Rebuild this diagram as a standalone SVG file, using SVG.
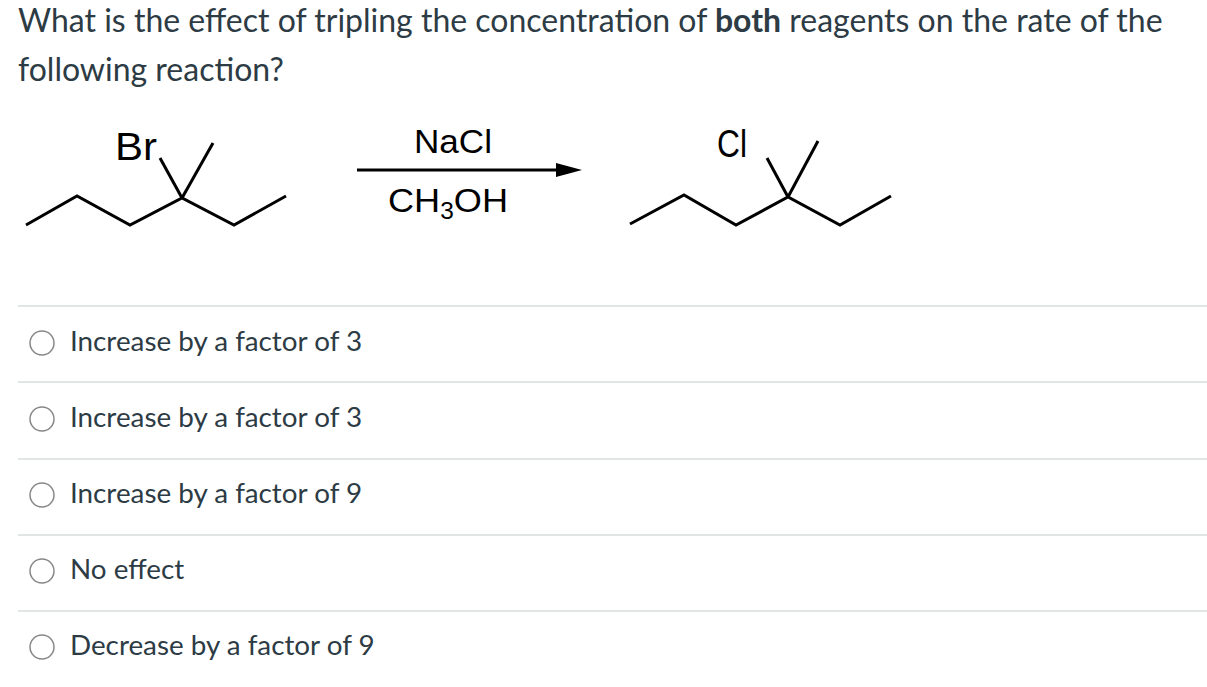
<svg xmlns="http://www.w3.org/2000/svg" width="1207" height="687" viewBox="0 0 1207 687">
<style>
.t{font-family:Lato,"Liberation Sans",sans-serif;font-size:32px;fill:#2d3b45}
.o{font-family:Lato,"Liberation Sans",sans-serif;font-size:27.8px;fill:#2d3b45}
.c{font-family:"Liberation Sans",Arial,sans-serif;font-size:34px;fill:#000}
.a{font-family:"Liberation Sans",Arial,sans-serif;font-size:38px;fill:#000}
.b{fill:none;stroke:#000;stroke-width:3;stroke-linejoin:miter}
.sep{stroke:#d9dcde;stroke-width:1.5}
.r{fill:#fff;stroke:#888;stroke-width:1.5}
</style>
<rect width="1207" height="687" fill="#fff"/>
<g id="question">
<text class="t" x="18" y="32">What is the effect of tripling the concentration of <tspan font-weight="bold">both</tspan> reagents on the rate of the</text>
<text class="t" x="18" y="81">following reaction?</text>
</g>
<g id="reactant">
<polyline class="b" points="26,225 77,196 130,225 182,198 234,225 286,196"/>
<line class="b" x1="182" y1="198" x2="160" y2="158"/>
<line class="b" x1="182" y1="198" x2="213" y2="143"/>
<text class="a" x="115" y="160" textLength="42" lengthAdjust="spacingAndGlyphs">Br</text>
</g>
<g id="connectors">
<line class="b" x1="357" y1="170" x2="560" y2="170"/>
<polygon points="582,170 556,163 556,177" fill="#000"/>
</g>
<g id="conditions">
<text class="c" x="414" y="153" textLength="78" lengthAdjust="spacingAndGlyphs">NaCl</text>
<text class="c" x="388" y="212" textLength="120" lengthAdjust="spacingAndGlyphs">CH<tspan font-size="23" dy="7">3</tspan><tspan dy="-7">OH</tspan></text>
</g>
<g id="product">
<polyline class="b" points="630,224 684,195 736,225 788,197 840,225 891,196"/>
<line class="b" x1="788" y1="197" x2="767" y2="158"/>
<line class="b" x1="788" y1="197" x2="818" y2="141"/>
<text class="a" x="717" y="157" textLength="30" lengthAdjust="spacingAndGlyphs">Cl</text>
</g>
<g id="options">
<line class="sep" x1="18" y1="306" x2="1207" y2="306"/>
<line class="sep" x1="18" y1="382" x2="1207" y2="382"/>
<line class="sep" x1="18" y1="459" x2="1207" y2="459"/>
<line class="sep" x1="18" y1="535" x2="1207" y2="535"/>
<line class="sep" x1="18" y1="611" x2="1207" y2="611"/>
<circle class="r" cx="42" cy="343" r="12"/>
<circle class="r" cx="42" cy="419" r="12"/>
<circle class="r" cx="42" cy="495" r="12"/>
<circle class="r" cx="42" cy="571" r="12"/>
<circle class="r" cx="42" cy="647" r="12"/>
<text class="o" x="70" y="351">Increase by a factor of 3</text>
<text class="o" x="70" y="427">Increase by a factor of 3</text>
<text class="o" x="70" y="503">Increase by a factor of 9</text>
<text class="o" x="70" y="579">No effect</text>
<text class="o" x="70" y="655">Decrease by a factor of 9</text>
</g>
</svg>
